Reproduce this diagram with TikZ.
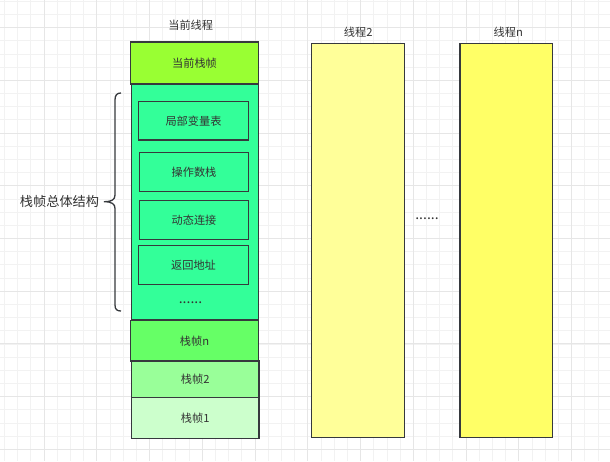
\documentclass[tikz,border=0pt]{standalone}
\usepackage{fontspec}
\setmainfont{Noto Sans CJK SC}
\begin{document}
\begin{tikzpicture}[x=1pt,y=-1pt,
  box/.style={draw=bordergray,line width=1.3pt,rectangle,inner sep=0pt,text=textgray,font=\fontsize{11.2}{13}\selectfont},
  lbl/.style={text=textgray,inner sep=0pt,font=\fontsize{11.2}{13}\selectfont},
  dotlbl/.style={text=textgray,inner sep=0pt,font=\fontsize{14}{16}\selectfont}]
\definecolor{bordergray}{HTML}{36393D}
\definecolor{textgray}{HTML}{333333}
\definecolor{gridminor}{HTML}{F2F2F2}
\definecolor{gridmajor}{HTML}{E6E6E6}
\definecolor{limeC}{HTML}{99FF33}
\definecolor{tealC}{HTML}{33FF99}
\definecolor{frameN}{HTML}{66FF66}
\definecolor{frameTwo}{HTML}{99FF99}
\definecolor{frameOne}{HTML}{CCFFCC}
\definecolor{threadTwo}{HTML}{FFFF99}
\definecolor{threadN}{HTML}{FFFF66}
\useasboundingbox (0,0) rectangle (610,461);
\fill[white] (0,0) rectangle (610,461);
% grid
\foreach \i in {0,...,46} {
  \pgfmathsetmacro{\gx}{4.46+13.19*\i}
  \draw[gridminor,line width=0.9pt] (\gx,0) -- (\gx,461);
}
\foreach \i in {0,...,35} {
  \pgfmathsetmacro{\gy}{1.3+13.18*\i}
  \draw[gridminor,line width=0.9pt] (0,\gy) -- (610,\gy);
}
\foreach \i in {0,...,11} {
  \pgfmathsetmacro{\gx}{44+52.76*\i}
  \draw[gridmajor,line width=1pt] (\gx,0) -- (\gx,461);
}
\foreach \i in {0,...,8} {
  \pgfmathsetmacro{\gy}{27.7+52.7*\i}
  \draw[gridmajor,line width=1pt] (0,\gy) -- (610,\gy);
}
% current thread
\node[box,fill=tealC,minimum width=127pt,minimum height=236pt] (body) at (195,202) {};
\node[box,fill=limeC,minimum width=128pt,minimum height=42pt] (cur) at (194.5,63) {当前栈帧};
\node[box,fill=tealC,minimum width=110pt,minimum height=38.5pt] (lv) at (193.5,120.8) {局部变量表};
\node[box,fill=tealC,minimum width=109.5pt,minimum height=38.5pt] (os) at (194,172) {操作数栈};
\node[box,fill=tealC,minimum width=109.5pt,minimum height=38.5pt] (dl) at (194,220) {动态连接};
\node[box,fill=tealC,minimum width=110.5pt,minimum height=38.5pt] (ra) at (193.5,265) {返回地址};
\node[dotlbl] (dots1) at (190.5,302.7) {......};
\node[box,fill=frameN,minimum width=128pt,minimum height=40.5pt] (fn) at (194.5,340.8) {栈帧n};
\node[box,fill=frameTwo,minimum width=127.5pt,minimum height=36.5pt] (f2) at (195.3,379.3) {栈帧2};
\node[box,fill=frameOne,minimum width=127.5pt,minimum height=40.5pt] (f1) at (195.3,418) {栈帧1};
\node[lbl] (t1) at (190.7,25) {当前线程};
% brace
\draw[bordergray,line width=1.3pt] (121,93) .. controls (117,93) and (115,95) .. (115,100) -- (115,195)
  .. controls (115,199.5) and (112,201.7) .. (104,201.7)
  .. controls (112,201.7) and (115,204) .. (115,208.5) -- (115,305)
  .. controls (115,309.5) and (117,311) .. (121,311);
\node[text=textgray,inner sep=0pt,font=\fontsize{13.2}{15}\selectfont] (brlbl) at (59.5,201.7) {栈帧总体结构};
% other threads
\node[box,fill=threadTwo,minimum width=92.5pt,minimum height=394.5pt] (th2) at (358,240.5) {};
\node[lbl] (th2l) at (358.3,32.3) {线程2};
\node[box,fill=threadN,minimum width=92.5pt,minimum height=394.5pt] (thn) at (506.2,240.5) {};
\node[lbl] (thnl) at (508.3,32.3) {线程n};
\node[dotlbl] (dots2) at (427,218.3) {......};
\end{tikzpicture}
\end{document}
